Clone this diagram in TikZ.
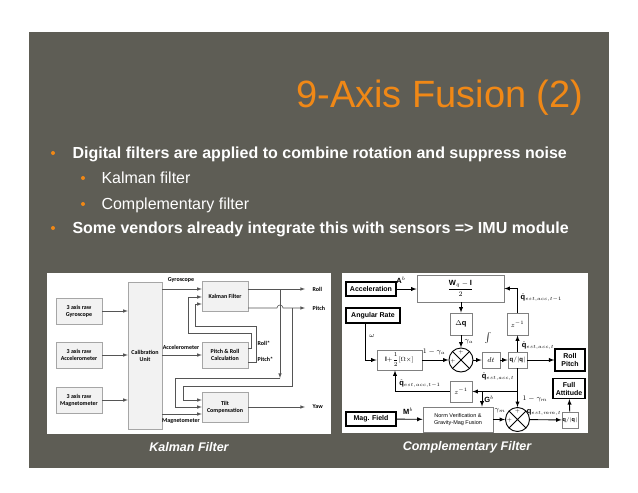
\documentclass[tikz,border=0pt]{standalone}
\usepackage{amsmath}
\usepackage{fontspec}
\setmainfont{Liberation Sans}
\newfontfamily\calfont{Carlito}
\usetikzlibrary{calc}
\definecolor{slidebg}{RGB}{94,93,85}
\definecolor{slideorange}{RGB}{240,136,22}
\definecolor{boxgray}{RGB}{242,242,242}
\definecolor{linegray}{RGB}{85,85,85}

\tikzset{
  kbox/.style={draw=gray!70, fill=boxgray, align=center, inner sep=0pt,
    font=\calfont\bfseries\fontsize{6}{7}\selectfont},
  klab/.style={inner sep=0.5pt, font=\calfont\bfseries\fontsize{6}{7}\selectfont},
  kline/.style={draw=linegray, line width=0.6pt, ->},
  cbox/.style={draw=gray, line width=0.8pt, fill=white, align=center, inner sep=0pt,
    font=\fontsize{7.5}{8}\selectfont},
  iobox/.style={draw=black, line width=1.2pt, fill=white, align=center, inner sep=0pt,
    font=\bfseries\fontsize{7}{8}\selectfont},
  clab/.style={inner sep=0.5pt, font=\fontsize{7.5}{8}\selectfont},
  cline/.style={draw=black, line width=0.9pt, ->},
  sumnode/.style={circle, draw=black, line width=0.9pt, fill=white, minimum size=24pt, inner sep=0pt,
    path picture={\draw[line width=0.9pt] (path picture bounding box.north west) -- (path picture bounding box.south east)
      (path picture bounding box.north east) -- (path picture bounding box.south west);}},
  plus/.style={inner sep=0pt, font=\fontsize{5}{5}\selectfont},
  bullet/.style={circle, fill=slideorange, inner sep=0pt, minimum size=4pt}
}

\begin{document}
\begin{tikzpicture}[x=1pt, y=-1pt, >=latex]
  % slide
  \fill[white] (0,0) rectangle (638,493);
  \fill[slidebg] (29,32) rectangle (609,468);
  \node[anchor=base east, text=slideorange, font=\fontsize{38}{40}\selectfont] (title) at (587,107) {9-Axis Fusion (2)};

  \node[bullet] (d1) at (53,153) {};
  \node[bullet] (d2) at (83,178) {};
  \node[bullet] (d3) at (83,204) {};
  \node[bullet] (d4) at (53,228) {};
  \node[anchor=base west, text=white, font=\bfseries\fontsize{16}{18}\selectfont] (b1) at (69,158) {Digital filters are applied to combine rotation and suppress noise};
  \node[anchor=base west, text=white, font=\fontsize{16}{18}\selectfont] (b2) at (98,183) {Kalman filter};
  \node[anchor=base west, text=white, font=\fontsize{16}{18}\selectfont] (b3) at (98,209) {Complementary filter};
  \node[anchor=base west, text=white, font=\bfseries\fontsize{16}{18}\selectfont] (b4) at (69,233) {Some vendors already integrate this with sensors => IMU module};

  % Kalman filter diagram
  \fill[white] (47,273) rectangle (331,434);
  \node[kbox, minimum width=46pt, minimum height=26pt] (gyr) at (79,311) {3 axis raw\\Gyroscope};
  \node[kbox, minimum width=46pt, minimum height=26pt] (acl) at (79,355) {3 axis raw\\Accelerometer};
  \node[kbox, minimum width=46pt, minimum height=26pt] (mgn) at (79,400) {3 axis raw\\Magnetometer};
  \node[kbox, minimum width=34pt, minimum height=147pt] (cal) at (145,355.5) {Calibration\\Unit};
  \node[kbox, minimum width=46pt, minimum height=30pt] (kal) at (225,296) {Kalman Filter};
  \node[kbox, minimum width=46pt, minimum height=26pt] (prc) at (225,355) {Pitch \& Roll\\Calculation};
  \node[kbox, minimum width=46pt, minimum height=30pt] (tlt) at (225,407) {Tilt\\Compensation};

  \draw[kline] (gyr) -- (gyr -| cal.west);
  \draw[kline] (acl) -- (acl -| cal.west);
  \draw[kline] (mgn) -- (mgn -| cal.west);
  \draw[kline] (cal.east |- 0,289) -- (kal.west |- 0,289);
  \draw[kline] (cal.east |- prc) -- (prc);
  \draw[kline] (cal.east |- 0,414) -- (tlt.west |- 0,414);
  \node[klab] (lgyr) at (181,280) {Gyroscope};
  \node[klab] (lacc) at (181,347) {Accelerometer};
  \node[klab] (lmag) at (181,421) {Magnetometer};

  \draw[kline] (prc.east |- 0,348) -| (251,333) -| (188,297) -- (kal.west |- 0,297);
  \draw[kline] (prc.east |- 0,362) -| (256,326) -| (195,304) -- (kal.west |- 0,304);
  \node[klab, anchor=west] (lrs) at (257,343) {Roll*};
  \node[klab, anchor=west] (lps) at (257,359) {Pitch*};

  \node[klab, anchor=west] (lroll) at (312,289) {Roll};
  \node[klab, anchor=west] (lpitch) at (312,308) {Pitch};
  \node[klab, anchor=west] (lyaw) at (312,407) {Yaw};
  \draw[kline] (kal.east |- lroll) -- (305,289);
  \draw[kline] (kal.east |- lpitch) -- (277,308) arc[start angle=180, end angle=360, radius=3] -- (305,308);
  \draw[kline] (280,289) -- (280,378);
  \draw[kline] (280,378) -| (175,407) -- (tlt.west |- 0,407);
  \draw[kline] (292,308) |- (183,386) |- (tlt.west |- 0,400);
  \draw[kline] (tlt.east |- lyaw) -- (305,407);

  % complementary filter diagram
  \fill[white] (342,273) rectangle (588,433);
  \node[iobox, minimum width=50pt, minimum height=14pt] (acc) at (371,289) {Acceleration};
  \node[cbox, minimum width=87pt, minimum height=27pt] (wq) at (460.5,288.5) {$\dfrac{\mathbf{W}_{\bar q}-\mathbf{I}}{2}$};
  \node[iobox, minimum width=54pt, minimum height=15pt] (ang) at (373,315.5) {Angular Rate};
  \node[cbox, minimum width=45pt, minimum height=20pt, font=\fontsize{6.5}{7}\selectfont] (opm) at (399.5,360) {$\mathbf{I}{+}\dfrac{1}{2}[\Omega{\times}]$};
  \node[sumnode] (s1) at (461,360) {};
  \node[cbox, minimum width=22pt, minimum height=22pt] (dq) at (461,324) {$\Delta\mathbf{q}$};
  \node[cbox, minimum width=18pt, minimum height=16pt] (dt) at (491,360) {$dt$};
  \node[cbox, minimum width=19pt, minimum height=16pt, font=\fontsize{6}{6}\selectfont] (nq1) at (517.5,360) {$\mathbf{q}/|\mathbf{q}|$};
  \node[cbox, minimum width=21pt, minimum height=22pt] (zu) at (517.5,324) {$z^{-1}$};
  \node[iobox, minimum width=30pt, minimum height=22pt] (rp) at (570,360) {Roll\\Pitch};
  \node[cbox, minimum width=22pt, minimum height=21pt] (zl) at (461,391.5) {$z^{-1}$};
  \node[iobox, minimum width=50pt, minimum height=14pt] (mag) at (371,419) {Mag. Field};
  \node[cbox, minimum width=70pt, minimum height=25pt, font=\fontsize{5.5}{6.5}\selectfont] (nvf) at (458,419.5) {Norm Verification \&\\Gravity-Mag Fusion};
  \node[sumnode] (s2) at (517.5,419.5) {};
  \node[cbox, minimum width=16pt, minimum height=16pt, font=\fontsize{5.5}{6}\selectfont] (nq2) at (570,420) {$\mathbf{q}/|\mathbf{q}|$};
  \node[iobox, minimum width=32pt, minimum height=20pt] (fa) at (569,388.5) {Full\\Attitude};

  \node[plus] (p1) at (461,352) {$+$};
  \node[plus] (p2) at (453,361) {$+$};
  \node[plus] (p3) at (517.5,411.5) {$+$};
  \node[plus] (p4) at (509.5,420.5) {$+$};

  \draw[cline] (acc) -- (wq.west |- acc);
  \draw[cline] (dq |- wq.south) -- (dq);
  \draw[cline] (dq) -- (s1);
  \draw[cline] (365,0 |- ang.south) |- (opm);
  \draw[cline] (opm) -- (s1);
  \draw[cline] (s1) -- (dt);
  \draw[cline] (dt) -- (nq1);
  \draw[cline] (nq1) -- (rp);
  \draw[cline] (nq1) -- (zu);
  \draw[cline] (zu) |- (wq);
  \draw[cline] (nq1) -- (s2);
  \coordinate (br) at (517.5,391.5);
  \draw[cline] (br) -- (zl);
  \draw[cline] (zl) -| (395,0 |- opm.south);
  \draw[cline] (482,391.5) -- (482,0 |- nvf.north);
  \draw[cline] (mag) -- (nvf);
  \draw[cline] (nvf) -- (s2);
  \draw[cline] (s2) -- (nq2);
  \draw[cline] (nq2) -- (fa);

  \node[clab] (la) at (401,280) {$\mathbf{A}^b$};
  \node[clab] (lw) at (372,336) {$\omega$};
  \node[clab] (lga) at (469,342) {$\gamma_a$};
  \node[clab] (l1ga) at (434,352) {$1-\gamma_a$};
  \node[clab, font=\fontsize{10}{10}\selectfont] (lint) at (488,338) {$\int$};
  \node[clab, anchor=west] (lq1) at (520,298) {$\hat{\mathbf{q}}_{est,acc,t-1}$};
  \node[clab] (lq2) at (538,346) {$\hat{\mathbf{q}}_{est,acc,t}$};
  \node[clab, anchor=east] (lq3) at (515,377) {$\hat{\mathbf{q}}_{est,acc,t}$};
  \node[clab] (lq4) at (420,384) {$\hat{\mathbf{q}}_{est,acc,t-1}$};
  \node[clab] (lg) at (489,399) {$\mathbf{G}^b$};
  \node[clab] (lm) at (408,411) {$\mathbf{M}^b$};
  \node[clab] (lgm) at (500,411) {$\gamma_m$};
  \node[clab] (l1gm) at (535,399) {$1-\gamma_m$};
  \node[clab] (lq5) at (544,412) {$\mathbf{q}_{est,mm,t}$};

  % captions
  \node[text=white, font=\bfseries\itshape\fontsize{12.5}{14}\selectfont] (capk) at (189,447) {Kalman Filter};
  \node[text=white, font=\bfseries\itshape\fontsize{12.5}{14}\selectfont] (capc) at (467,447) {Complementary Filter};
\end{tikzpicture}
\end{document}
